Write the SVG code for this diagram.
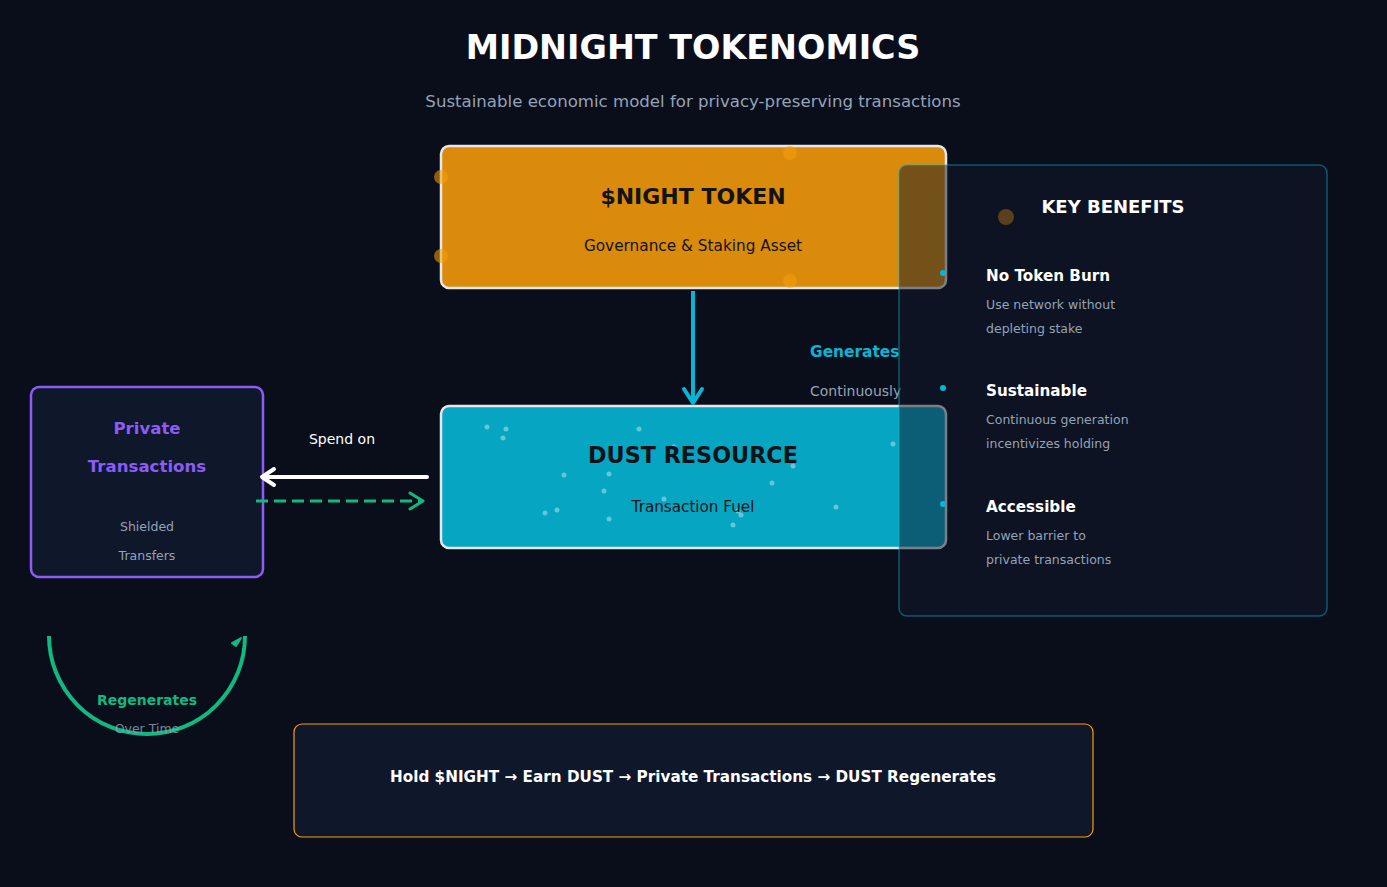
<svg xmlns="http://www.w3.org/2000/svg" width="1387" height="887" viewBox="0 0 1387 887">
<defs>
<style>
text{font-family:"DejaVu Sans","Liberation Sans",sans-serif}
.b{font-weight:bold}
.c{text-anchor:middle}
.gray{fill:#94a3b8}
.wh{fill:#ffffff}
.dk{fill:#111318}
.odot{fill:#f59e0b;opacity:0.55}
.p{fill:#ffffff;opacity:0.38}
.bul{fill:#06b6d4}
.chev{fill:none;stroke-linecap:round;stroke-linejoin:round}
</style>
</defs>
<rect width="1387" height="887" fill="#0a0e1a"/>
<g id="title">
<text x="693" y="59" class="b c wh" font-size="33.4">MIDNIGHT TOKENOMICS</text>
<text x="693" y="107" class="c gray" font-size="16.6">Sustainable economic model for privacy-preserving transactions</text>
</g>
<g id="night-token">
<rect x="441" y="146" width="505" height="142" rx="8" fill="#db8b0b" stroke="#e5e7eb" stroke-width="2.5"/>
<circle cx="441" cy="177" r="7" class="odot"/>
<circle cx="441" cy="256" r="7" class="odot"/>
<circle cx="790" cy="153" r="7" class="odot"/>
<circle cx="790" cy="281" r="7" class="odot"/>
<text x="693" y="204" class="b c dk" font-size="22">$NIGHT TOKEN</text>
<text x="693" y="251" class="c dk" font-size="15.3">Governance &amp; Staking Asset</text>
</g>
<g id="dust-resource">
<rect x="441" y="406" width="505" height="142" rx="8" fill="#06a5c2" stroke="#e5e7eb" stroke-width="2.5"/>
<circle cx="487" cy="427" r="2.5" class="p"/>
<circle cx="506" cy="429" r="2.5" class="p"/>
<circle cx="503" cy="438" r="2.5" class="p"/>
<circle cx="639" cy="429" r="2.5" class="p"/>
<circle cx="674" cy="447" r="2.5" class="p"/>
<circle cx="564" cy="475" r="2.5" class="p"/>
<circle cx="609" cy="474" r="2.5" class="p"/>
<circle cx="604" cy="491" r="2.5" class="p"/>
<circle cx="664" cy="499" r="2.5" class="p"/>
<circle cx="545" cy="513" r="2.5" class="p"/>
<circle cx="557" cy="510" r="2.5" class="p"/>
<circle cx="609" cy="519" r="2.5" class="p"/>
<circle cx="738" cy="511" r="2.5" class="p"/>
<circle cx="741" cy="515" r="2.5" class="p"/>
<circle cx="733" cy="525" r="2.5" class="p"/>
<circle cx="772" cy="483" r="2.5" class="p"/>
<circle cx="793" cy="466" r="2.5" class="p"/>
<circle cx="836" cy="507" r="2.5" class="p"/>
<circle cx="893" cy="444" r="2.5" class="p"/>
<text x="693" y="463" class="b c dk" font-size="22.3">DUST RESOURCE</text>
<text x="693" y="512" class="c dk" font-size="15.2">Transaction Fuel</text>
</g>
<g id="private-transactions">
<rect x="31" y="387" width="232" height="190" rx="8" fill="#0f172a" stroke="#8b5cf6" stroke-width="2.5"/>
<text x="147" y="434" class="b c" font-size="16.6" fill="#8b5cf6">Private</text>
<text x="147" y="472" class="b c" font-size="16.6" fill="#8b5cf6">Transactions</text>
<text x="147" y="531" class="c gray" font-size="12.5">Shielded</text>
<text x="147" y="560" class="c gray" font-size="12.5">Transfers</text>
</g>
<g id="connectors">
<line x1="693" y1="291" x2="693" y2="402" stroke="#06b6d4" stroke-width="4"/>
<polyline points="684,389 693,403 702,389" class="chev" stroke="#06b6d4" stroke-width="4"/>
<line x1="427" y1="477" x2="263" y2="477" stroke="#ffffff" stroke-width="4" stroke-linecap="round"/>
<polyline points="274,469 262,477 274,485" class="chev" stroke="#ffffff" stroke-width="4"/>
<line x1="256" y1="501" x2="422" y2="501" stroke="#10b981" stroke-width="3" stroke-dasharray="12,6"/>
<polyline points="410,493 423,501 410,509" class="chev" stroke="#10b981" stroke-width="3"/>
<path d="M49,636 A98,98 0 0 0 245,636" fill="none" stroke="#10b981" stroke-width="4"/>
<polygon points="241,638 232,643 236,646" fill="#10b981" stroke="#10b981" stroke-width="2" stroke-linejoin="round"/>
<text x="342" y="444" class="c wh" font-size="14">Spend on</text>
<text x="810" y="357" class="b" font-size="15.4" fill="#06b6d4">Generates</text>
<text x="810" y="396" class="gray" font-size="14">Continuously</text>
<text x="147" y="705" class="b c" font-size="14" fill="#10b981">Regenerates</text>
<text x="147" y="733" class="c gray" font-size="12.5" opacity="0.8">Over Time</text>
</g>
<g id="key-benefits">
<rect x="899" y="165" width="428" height="451" rx="8" fill="#0f172a" fill-opacity="0.5" stroke="#06b6d4" stroke-opacity="0.45" stroke-width="1.5"/>
<circle cx="1006" cy="217" r="8" fill="#5b401e"/>
<text x="1113" y="213" class="b c wh" font-size="18">KEY BENEFITS</text>
<circle cx="943" cy="273" r="3" class="bul"/>
<text x="986" y="281" class="b wh" font-size="15.2">No Token Burn</text>
<text x="986" y="309" class="gray" font-size="12.5">Use network without</text>
<text x="986" y="333" class="gray" font-size="12.5">depleting stake</text>
<circle cx="943" cy="388" r="3" class="bul"/>
<text x="986" y="396" class="b wh" font-size="15.2">Sustainable</text>
<text x="986" y="424" class="gray" font-size="12.5">Continuous generation</text>
<text x="986" y="448" class="gray" font-size="12.5">incentivizes holding</text>
<circle cx="943" cy="504" r="3" class="bul"/>
<text x="986" y="512" class="b wh" font-size="15.2">Accessible</text>
<text x="986" y="540" class="gray" font-size="12.5">Lower barrier to</text>
<text x="986" y="564" class="gray" font-size="12.5">private transactions</text>
</g>
<g id="summary">
<rect x="294" y="724" width="799" height="113" rx="8" fill="#0f172a" stroke="#f59e0b" stroke-width="1.2"/>
<text x="693" y="782" class="b c wh" font-size="15" textLength="606" lengthAdjust="spacingAndGlyphs">Hold $NIGHT → Earn DUST → Private Transactions → DUST Regenerates</text>
</g>
</svg>
